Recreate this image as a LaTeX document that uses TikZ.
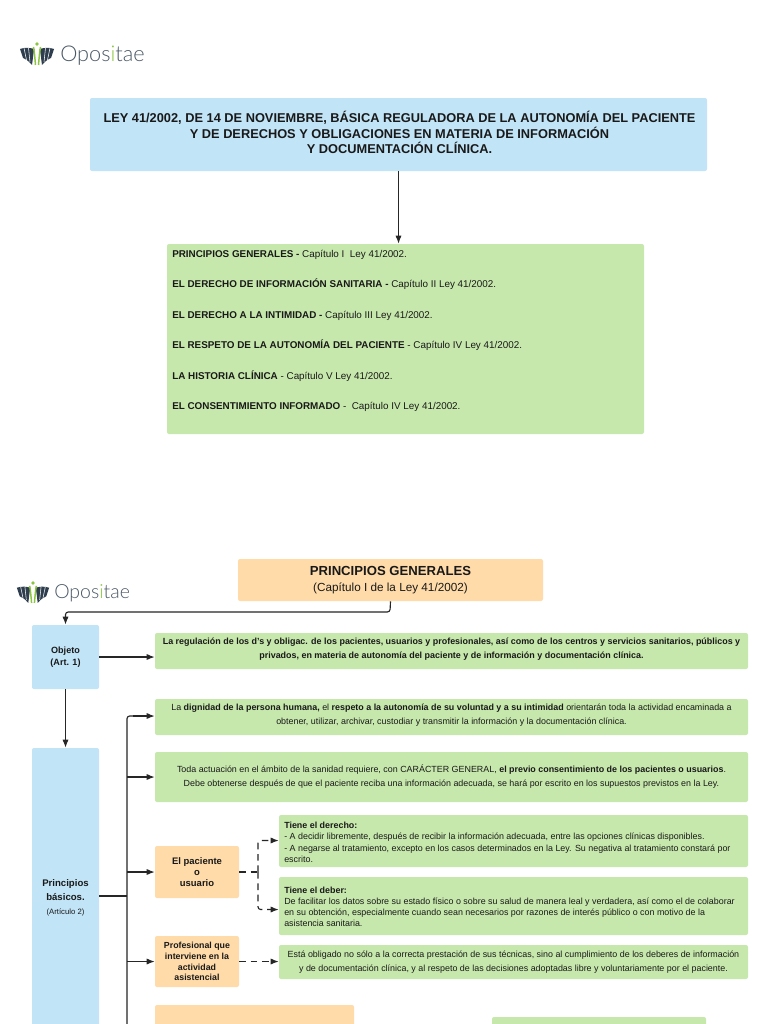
\documentclass[tikz,border=0pt]{standalone}
\usepackage{fontspec}
\setmainfont{Liberation Sans}
\newfontfamily\logofont{Lato Light}
\usetikzlibrary{arrows.meta}
\definecolor{bluebox}{HTML}{C1E4F7}
\definecolor{greenbox}{HTML}{C7E8AC}
\definecolor{orangebox}{HTML}{FFDBA9}
\definecolor{logodark}{HTML}{2F3E4E}
\definecolor{logotext}{HTML}{4A5866}
\definecolor{logogreen}{HTML}{8CC63F}
\newcommand{\fs}[2]{\fontsize{#1}{#2}\selectfont}
\newcommand{\boxat}[7]{% name, style, x1,y1,x2,y2, text
  \node[#2,minimum width={(#5-#3)*0.75pt},minimum height={(#6-#4)*0.75pt}] (#1) at ({(#3+#5)/2},{(#4+#6)/2}) {#7};}
\newcommand{\logomark}[4]{% name,x,y,scale
  \begin{scope}[shift={(#2,#3)},scale=#4]
    \fill[logodark] (-2.5,5) .. controls (-6,4) and (-12,3) .. (-17,5) -- (-14,14) .. controls (-12,15) and (-9,16) .. (-5,21) .. controls (-4,15) and (-4,10) .. cycle;
    \fill[logodark] (2.5,5) .. controls (6,4) and (12,3) .. (17,5) -- (14,14) .. controls (12,15) and (9,16) .. (5,21) .. controls (4,15) and (4,10) .. cycle;
    \draw[white,line width=0.4pt] (-13,4) -- (-10.5,16) (-8.5,4) -- (-7,18) (13,4) -- (10.5,16) (8.5,4) -- (7,18);
    \fill[logogreen] (0,0) circle (1.9);
    \draw[logogreen,line width=1.1pt] (-3.5,3) .. controls (-2.5,9) and (-2,15) .. (-1.5,21);
    \draw[logogreen,line width=1.1pt] (3.5,3) .. controls (2.5,9) and (2,15) .. (1.5,21);
  \end{scope}}
\tikzset{
  x=0.75pt,y=-0.75pt,
  pbox/.style={rounded corners=1.5pt,inner sep=0pt,align=center,text=black!90},
  blue box/.style={pbox,fill=bluebox},
  green box/.style={pbox,fill=greenbox},
  orange box/.style={pbox,fill=orangebox},
  boxtext/.style={inner sep=0pt,text=black!90},
  conn/.style={draw=black!85,line width=0.85pt,-{Latex[length=6pt,width=4.6pt]}},
  plainconn/.style={draw=black!85,line width=0.85pt},
  dashconn/.style={conn,dash pattern=on 5pt off 3.5pt},
  dashplain/.style={plainconn,dash pattern=on 5pt off 3.5pt},
  logotxt/.style={inner sep=0pt,anchor=west,text=logotext},
}
\begin{document}
\begin{tikzpicture}
\useasboundingbox (0,0) rectangle (768,1024);
\clip (0,0) rectangle (768,1024);
\fill[white] (0,0) rectangle (768,1024);
% logos
\logomark{a}{37}{44}{1}
\node[logotxt,font=\logofont\fs{16.3}{17}] (logoA) at (60,56) {Opos\textcolor{logogreen}{i}tae};
\logomark{b}{33}{583}{0.95}
\node[logotxt,font=\logofont\fs{14.6}{16}] (logoB) at (54,593.5) {Opos\textcolor{logogreen}{i}tae};
% title
\boxat{title}{blue box}{90}{98}{707}{171}{}
\node[boxtext,align=center,font=\bfseries\fs{9.6}{11.6}] (titletext) at (399.5,132.5) {LEY 41/2002, DE 14 DE NOVIEMBRE, BÁSICA REGULADORA DE LA AUTONOMÍA DEL PACIENTE\\Y DE DERECHOS Y OBLIGACIONES EN MATERIA DE INFORMACIÓN\\Y DOCUMENTACIÓN CLÍNICA.};
% chapters
\boxat{caps}{green box}{167}{244}{644}{434}{}
\node[boxtext,anchor=north west,align=left,font=\fs{7.4}{22.8}] (capstext) at (172,250) {\textbf{PRINCIPIOS GENERALES -} Capítulo I\ \ Ley 41/2002.\\\textbf{EL DERECHO DE INFORMACIÓN SANITARIA -} Capítulo II Ley 41/2002.\\\textbf{EL DERECHO A LA INTIMIDAD -} Capítulo III Ley 41/2002.\\\textbf{EL RESPETO DE LA AUTONOMÍA DEL PACIENTE} - Capítulo IV Ley 41/2002.\\\textbf{LA HISTORIA CLÍNICA} - Capítulo V Ley 41/2002.\\\textbf{EL CONSENTIMIENTO INFORMADO} -\ \ Capítulo IV Ley 41/2002.};
\draw[conn] (title.south) -- (title.south |- caps.north);
% principios generales
\boxat{pg}{orange box,font=\fs{9.85}{12}}{238}{559}{543}{601}{\textbf{PRINCIPIOS GENERALES}\\\fs{8.8}{11.6}(Capítulo I de la Ley 41/2002)}
% left column
\boxat{objeto}{blue box,font=\bfseries\fs{6.8}{8.8}}{32}{625}{99}{689}{Objeto\\(Art. 1)}
\boxat{princ}{blue box}{32}{748}{99}{1200}{}
\node[boxtext,align=center,font=\bfseries\fs{7.2}{10.6}] (princtext) at (65.5,898) {Principios\\básicos.\\\mdseries\fs{5.8}{10}(Artículo 2)};
% right boxes
\boxat{reg}{green box}{155}{633}{748}{669}{}
\node[boxtext,align=center,font=\bfseries\fs{6.7}{10.6}] (regtext) at (451.5,649.5) {La regulación de los d'{}s y obligac. de los pacientes, usuarios y profesionales, así como de los centros y servicios sanitarios, públicos y\\privados, en materia de autonomía del paciente y de información y documentación clínica.};
\boxat{dign}{green box}{155}{699}{748}{735}{}
\node[boxtext,align=center,font=\fs{6.68}{10.6}] (digntext) at (451.5,715.5) {La \textbf{dignidad de la persona humana,} el \textbf{respeto a la autonomía de su voluntad y a su intimidad} orientarán toda la actividad encaminada a\\obtener, utilizar, archivar, custodiar y transmitir la información y la documentación clínica.};
\boxat{toda}{green box}{155}{752}{748}{802}{}
\node[boxtext,align=center,font=\fs{6.68}{10.6}] (todatext) at (451.5,776.5) {Toda actuación en el ámbito de la sanidad requiere, con CARÁCTER GENERAL, \textbf{el previo consentimiento de los pacientes o usuarios}.\\Debe obtenerse después de que el paciente reciba una información adecuada, se hará por escrito en los supuestos previstos en la Ley.};
\boxat{pac}{orange box,font=\bfseries\fs{7.1}{8.3}}{155}{846}{239}{898}{El paciente\\o\\usuario}
\boxat{prof}{orange box,font=\bfseries\fs{6.6}{8.1}}{155}{936}{239}{987}{Profesional que\\interviene en la\\actividad\\asistencial}
\boxat{der}{green box}{279}{815}{748}{867}{}
\node[boxtext,anchor=west,align=left,font=\fs{6.68}{8.6}] (dertext) at (284,842.5) {\textbf{Tiene el derecho:}\\- A decidir libremente, después de recibir la información adecuada, entre las opciones clínicas disponibles.\\- A negarse al tratamiento, excepto en los casos determinados en la Ley. Su negativa al tratamiento constará por\\escrito.};
\boxat{deb}{green box}{279}{877}{748}{935}{}
\node[boxtext,anchor=west,align=left,font=\fs{6.68}{8.2}] (debtext) at (284,907) {\textbf{Tiene el deber:}\\De facilitar los datos sobre su estado físico o sobre su salud de manera leal y verdadera, así como el de colaborar\\en su obtención, especialmente cuando sean necesarios por razones de interés público o con motivo de la\\asistencia sanitaria.};
\boxat{esta}{green box,font=\fs{6.68}{10.2}}{279}{945}{748}{979}{Está obligado no sólo a la correcta prestación de sus técnicas, sino al cumplimiento de los deberes de información\\y de documentación clínica, y al respeto de las decisiones adoptadas libre y voluntariamente por el paciente.}
\boxat{botL}{orange box}{155}{1005}{354}{1100}{}
\boxat{botR}{green box}{492}{1017}{706}{1100}{}
% connectors
\draw[conn,rounded corners=2pt] (pg.south) -- (390,612) -- (objeto.north |- 0,612) -- (objeto.north);
\draw[conn] (objeto.east) -- (reg.west |- objeto.east);
\draw[conn] (objeto.south) -- (princ.north);
\coordinate (trunkJ) at (127,896);
\coordinate (trunkEnd) at (127,1030);
\draw[plainconn] (princ.east |- trunkJ) -- (trunkJ);
\draw[plainconn,rounded corners=2pt] (trunkEnd) -- (127,716) -- (133,716);
\draw[conn] (133,716) -- (dign.west |- 0,716);
\draw[conn] (127,777) -- (toda.west |- 0,777);
\draw[conn] (127,872) -- (pac.west);
\draw[conn] (127,961.5) -- (prof.west);
\coordinate (dashJ) at (258,872);
\draw[dashplain] (pac.east) -- (dashJ);
\draw[dashconn,rounded corners=2pt] (dashJ) -- (258,840.5) -- (der.west |- 0,840.5);
\draw[dashconn,rounded corners=2pt] (dashJ) -- (258,909.5) -- (deb.west |- 0,909.5);
\draw[dashconn] (prof.east) -- (esta.west |- prof.east);
\end{tikzpicture}
\end{document}
